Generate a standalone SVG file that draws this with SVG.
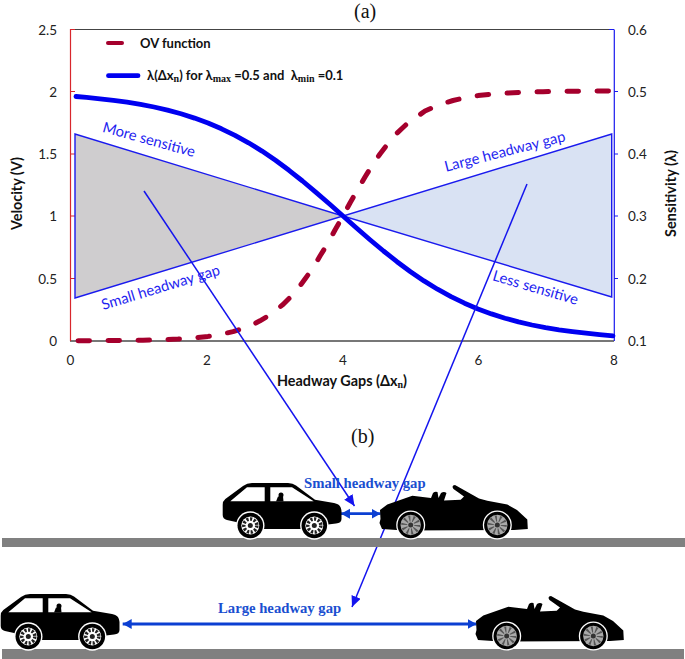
<svg xmlns="http://www.w3.org/2000/svg" xmlns:xlink="http://www.w3.org/1999/xlink" width="685" height="659" viewBox="0 0 685 659">
<style>
text{font-family:Lato,"Noto Sans",sans-serif;fill:#222;white-space:pre}
.tick{font-size:13.5px}
.bold{font-size:13px;font-weight:700;fill:#111}
.title{font-size:14.4px;font-weight:700;fill:#111}
.note{font-size:14.800px;fill:#1f1ff0}
.head{font-family:"Liberation Serif",serif;font-size:20px;fill:#111}
.gap{font-family:"Liberation Serif",serif;font-size:14.700px;font-weight:700;fill:#1a4fd0}
.sub{font-family:"Liberation Serif",serif;font-size:10px;font-weight:700;fill:#111}
.thin{stroke:#1414ee;stroke-width:1.500;fill:none}
.gaparrow{stroke:#0b3fd2;stroke-width:2.800;fill:none}
.road{fill:#808080}
.red{stroke:#d8262c;stroke-width:1.200}
.blue{stroke:#1a1aee;stroke-width:1.200}
</style>
<defs>
<marker id="thinHead" markerUnits="userSpaceOnUse" markerWidth="12" markerHeight="12" refX="11" refY="5" orient="auto"><path d="M0 0L11 5L0 10Z" fill="#1414ee"/></marker>
<marker id="gapEnd" markerUnits="userSpaceOnUse" markerWidth="12" markerHeight="12" refX="9" refY="5" orient="auto-start-reverse"><path d="M0 0L9 5L0 10Z" fill="#0b3fd2"/></marker>
<g id="wheelA">
<circle r="14.200" fill="#fff"/><circle r="12.800" fill="#000"/><circle r="9" fill="#fff"/>
<circle r="6.500" fill="none" stroke="#222" stroke-width="3.500" stroke-dasharray="2.200 1.500"/><circle r="2.500" fill="#222"/>
</g>
<g id="wheelB">
<circle r="14.500" fill="#fff"/><circle r="13.200" fill="#000"/><circle r="10.200" fill="#a8a8a8"/>
<circle r="6.500" fill="none" stroke="#555" stroke-width="6" stroke-dasharray="1.500 2.500"/><circle r="2.500" fill="#333"/>
</g>
<g id="hatch">
<path d="M119.500 622C119 617 117 615 112 614L93 610.700L74 596.500Q71 594 66 594L30 594Q25 594 21 597L3.300 610Q.7 612 .7 616L.7 626Q.7 630 5 631L14 633L28 640L92 640L106 635.500L114 634.500Q119.500 634 119.500 630Z" fill="#000"/>
<path d="M8.300 612.300L25 598.300L42.700 598.300L42.700 612.300Z M48.300 598.300L70 598.300L91.700 612.300L48.300 612.300Z" fill="#fff"/>
<circle cx="59" cy="606" r="2.500" fill="#000"/><path d="M54 612.500L56 607.500L61 607L61.500 612.500Z" fill="#000"/>
<use href="#wheelA" x="28.300" y="636.500"/><use href="#wheelA" x="92.300" y="636.500"/>
</g>
<g id="rag">
<path d="M476 621L483.300 615.500L508.300 606.700L527 609L529 604Q531 602 533.500 603L534.500 609L537 604Q540 602 542.500 604L540 611.500L556.700 610.700L560 607.500L549.500 600Q547 596.500 551 596L575 609.500L583.300 611.700L603.300 615.500L613 621L623.300 630.500L623.800 640L610 641L500 641.500L478 640L475.500 634L476.500 630Z" fill="#000"/>
<use href="#wheelB" x="506.700" y="636"/><use href="#wheelB" x="593.300" y="636"/>
</g>
</defs>
<rect width="685" height="659" fill="#fff"/>
<g id="plot-frame">
<path d="M70.500 29.500H614" stroke="#444" stroke-width="1.200"/>
<path d="M70 341H614" stroke="#777" stroke-width="2"/>
<path class="red" d="M70.500 29V341M70.500 29.500H75M70.500 91.500H75M70.500 154H75M70.500 216H75M70.500 278.500H75" fill="none"/>
<path class="blue" d="M614.300 29.500V341M614 29.500H609M614 91.500H618M614 154H618M614 216H618M614 278.500H618" fill="none"/>
</g>
<g id="sensitivity-regions">
<path d="M75 134V298L343 216Z" fill="#cfcdcf" stroke="#1a1aee" stroke-width="1.400"/>
<path d="M611.700 134V297L343 216Z" fill="#d9e2f3" stroke="#1a1aee" stroke-width="1.400"/>
</g>
<g id="curves" fill="none">
<polyline id="ov-curve" stroke="#a5002d" stroke-width="5" stroke-linecap="round" stroke-linejoin="round" stroke-dasharray="11.500 18.500" points="78,340.700 110,340.600 143,340.300 160,339.800 178,339 193,338 208,336.400 221,334.300 233,331.600 243,328.500 253,324.500 260,320.800 268,316 275,310.800 283,304.500 290,297.500 298,288.500 305,279 313,268 320,256 328,243 335,230 343,216 350,203 358,189 365,177 373,164 380,154 388,143.500 395,135 403,127.500 410,121 418,116 425,111 433,107.500 443,103.500 453,100.500 465,97.800 478,95.600 493,94 508,93 525,92.200 543,91.700 575,91.200 613,91"/>
<polyline id="sensitivity-curve" stroke="#0000f0" stroke-width="4.800" stroke-linecap="round" stroke-linejoin="round" points="76,96.500 86.500,97.400 100,98.800 113.500,100.300 127,102.100 140.500,104.300 154,107 167.500,110.100 181,113.800 194.500,118.100 208,123 221.500,128.800 235,135.400 248.500,142.800 262,151.100 275.500,160.300 289,170.300 302.500,181 316,192.300 329.500,204 343,216 356.500,228 370,239.700 383.500,251 397,261.700 410.500,271.700 424,280.900 437.500,289.200 451,296.600 464.500,303.200 478,309 491.500,313.900 505,318.200 518.500,321.900 532,325 545.500,327.700 559,329.900 572.500,331.700 586,333.200 599.500,334.600 613,335.800"/>
</g>
<g id="connectors">
<line class="thin" x1="144" y1="191" x2="354.500" y2="506" marker-end="url(#thinHead)"/>
<line class="thin" x1="527" y1="184" x2="352" y2="607" marker-end="url(#thinHead)"/>
<line class="gaparrow" x1="341" y1="513.700" x2="380.500" y2="513.700" marker-start="url(#gapEnd)" marker-end="url(#gapEnd)"/>
<line class="gaparrow" x1="122.700" y1="624" x2="476.500" y2="624" marker-start="url(#gapEnd)" marker-end="url(#gapEnd)"/>
</g>
<g id="axis-labels">
<g class="tick" text-anchor="end"><text x="57" y="34.500">2.5</text><text x="57" y="96.500">2</text><text x="57" y="159">1.5</text><text x="57" y="221">1</text><text x="57" y="283.500">0.5</text><text x="57" y="346">0</text></g>
<g class="tick"><text x="628" y="34.500">0.6</text><text x="628" y="96.500">0.5</text><text x="628" y="159">0.4</text><text x="628" y="221">0.3</text><text x="628" y="283.500">0.2</text><text x="628" y="346">0.1</text></g>
<g class="tick" text-anchor="middle"><text x="70.500" y="364.500">0</text><text x="207" y="364.500">2</text><text x="343" y="364.500">4</text><text x="478.500" y="364.500">6</text><text x="614" y="364.500">8</text></g>
<text class="title" transform="translate(21.500 193.500) rotate(-90)" text-anchor="middle" textLength="73">Velocity (V)</text>
<text class="title" transform="translate(676 193.500) rotate(-90)" text-anchor="middle" textLength="87">Sensitivity (λ)</text>
<text class="title" x="277" y="386">Headway Gaps (Δx<tspan class="sub" dy="2">n</tspan><tspan dy="-2">)</tspan></text>
</g>
<g id="legend">
<line x1="108" y1="43" x2="122" y2="43" stroke="#a5002d" stroke-width="4" stroke-linecap="round"/>
<line x1="108.500" y1="75.700" x2="138" y2="75.700" stroke="#0000f0" stroke-width="4.800" stroke-linecap="round"/>
<text class="bold" x="140" y="47.500">OV function</text>
<text class="bold" x="147" y="80">λ(Δx<tspan class="sub" dy="2">n</tspan><tspan dy="-2">) for λ</tspan><tspan class="sub" dy="2">max</tspan><tspan dy="-2"> =0.5 and  λ</tspan><tspan class="sub" dy="2">min</tspan><tspan dy="-2"> =0.1</tspan></text>
</g>
<g id="region-labels">
<text class="note" transform="translate(101.700 131.700) rotate(15.500)">More sensitive</text>
<text class="note" transform="translate(446 171.700) rotate(-14.400)">Large headway gap</text>
<text class="note" transform="translate(103.300 310) rotate(-16.900)">Small headway gap</text>
<text class="note" transform="translate(491.700 280) rotate(16.400)">Less sensitive</text>
</g>
<text class="head" x="354" y="18">(a)</text>
<text class="head" x="351" y="443">(b)</text>
<g id="road-upper"><rect class="road" x="2" y="538" width="683" height="9"/></g>
<g id="road-lower"><rect class="road" x="2" y="649" width="682" height="10"/></g>
<g id="car-small-gap-rear"><use href="#hatch" transform="translate(222 -111)"/></g>
<g id="car-small-gap-front"><use href="#rag" transform="translate(-96 -111)"/></g>
<g id="car-large-gap-rear"><use href="#hatch"/></g>
<g id="car-large-gap-front"><use href="#rag"/></g>
<text class="gap" x="304" y="488">Small headway gap</text>
<text class="gap" x="218" y="613">Large headway gap</text>
</svg>
